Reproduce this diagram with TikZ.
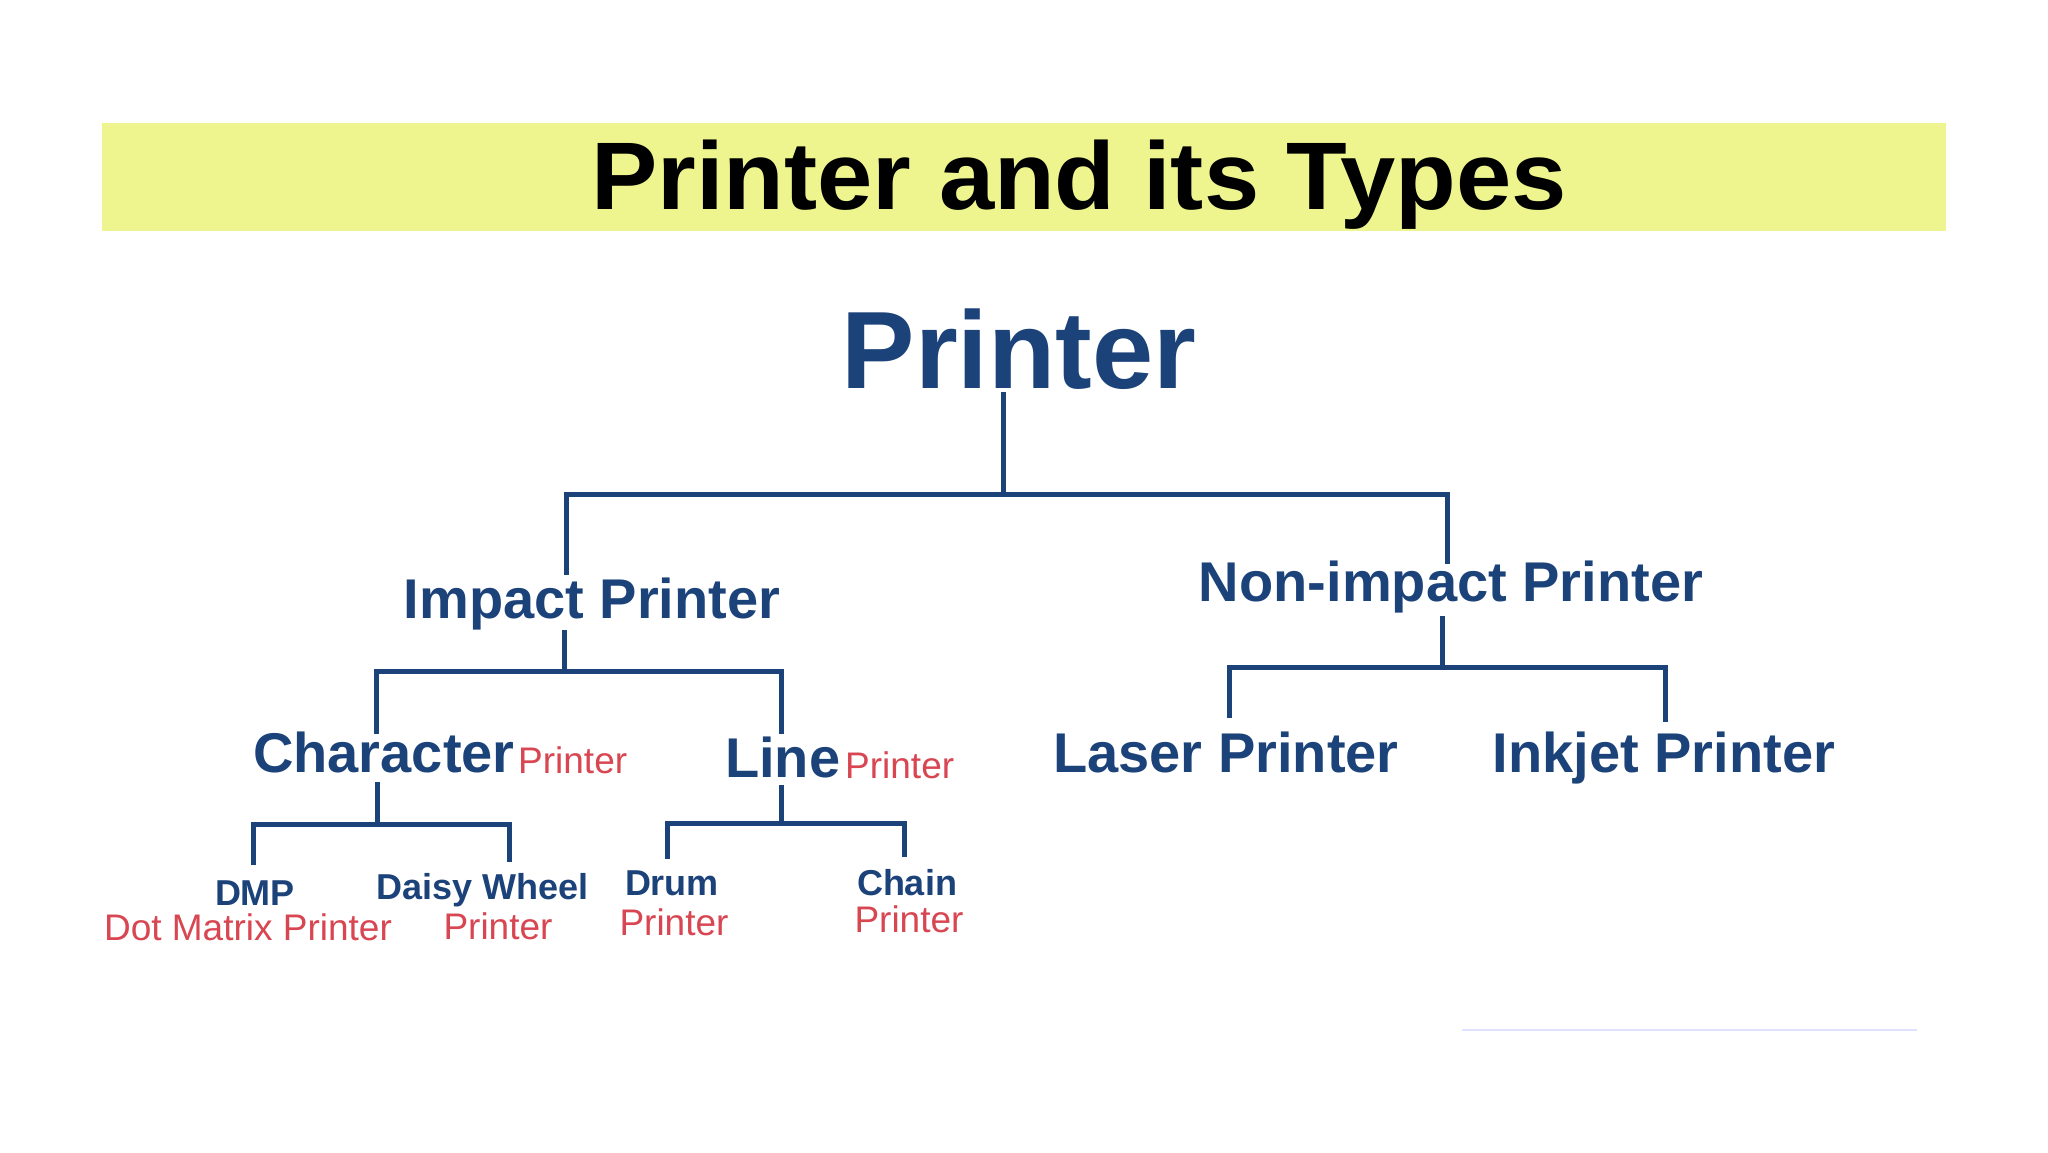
\documentclass[tikz,border=0pt]{standalone}
\usepackage{fontspec}
\setmainfont{Liberation Sans}
\definecolor{navy}{RGB}{28,66,122}
\definecolor{rosered}{RGB}{216,70,82}
\definecolor{paleyellow}{RGB}{238,245,142}

\begin{document}
\begin{tikzpicture}[x=1pt,y=-1pt,
  kind/.style={text=navy,font=\bfseries\fontsize{56}{60}\selectfont,inner sep=0pt,anchor=base},
  sub/.style={text=rosered,font=\fontsize{37}{40}\selectfont,inner sep=0pt,anchor=base},
  leaf/.style={text=navy,font=\bfseries\fontsize{36}{40}\selectfont,inner sep=0pt,anchor=base},
  link/.style={draw=navy,line width=5pt}] %%Printer tree
\useasboundingbox (0,0) rectangle (2048,1152);
\fill[white] (0,0) rectangle (2048,1152);
\fill[paleyellow] (102,123) rectangle (1946,231);
\node[anchor=base,inner sep=0pt,font=\bfseries\fontsize{96}{100}\selectfont,xscale=1.035] (title) at (1079,209) {Printer and its Types};

\node[kind,font=\bfseries\fontsize{110}{120}\selectfont] (printer) at (1019,388) {Printer};
\node[kind] (impact) at (592,618) {Impact Printer};
\node[kind] (nonimpact) at (1451,601) {Non-impact Printer};
\node[kind,anchor=base west] (char) at (253,772) {Character};
\node[sub,anchor=base west] (charsub) at (518,773) {Printer};
\node[kind,anchor=base west] (line) at (725,777) {Line};
\node[sub,anchor=base west] (linesub) at (845,778) {Printer};
\node[kind] (laser) at (1226,772) {Laser Printer};
\node[kind] (inkjet) at (1664,772) {Inkjet Printer};
\node[leaf] (dmp) at (255,905) {DMP};
\node[sub] (dmpsub) at (248,940) {Dot Matrix Printer};
\node[leaf] (daisy) at (483,899) {Daisy Wheel};
\node[sub] (daisysub) at (498,939) {Printer};
\node[leaf] (drum) at (672,895) {Drum};
\node[sub] (drumsub) at (674,935) {Printer};
\node[leaf] (chain) at (907,895) {Chain};
\node[sub] (chainsub) at (909,932) {Printer};

% branch points and child ends
\coordinate (b0) at (1003,494);
\coordinate (impactT) at (566,575);
\coordinate (nonT) at (1447,564);
\coordinate (b1) at (564,671);
\coordinate (charT) at (376,734);
\coordinate (lineT) at (781,734);
\coordinate (b2) at (1442,667);
\coordinate (laserT) at (1229,718);
\coordinate (inkjetT) at (1665,722);
\coordinate (b3) at (377,824);
\coordinate (dmpT) at (253,865);
\coordinate (daisyT) at (509,862);
\coordinate (b4) at (781,823);
\coordinate (drumT) at (667,859);
\coordinate (chainT) at (904,857);

\draw[link,shorten <=3pt] (printer.south -| b0) -- (b0);
\draw[link] (impactT) |- (b0) -| (nonT);
\draw[link] (impact.south -| b1) -- (b1);
\draw[link] (charT) |- (b1) -| (lineT);
\draw[link,shorten <=3pt] (nonimpact.south -| b2) -- (b2);
\draw[link] (laserT) |- (b2) -| (inkjetT);
\draw[link,shorten <=9pt] (char.south -| b3) -- (b3);
\draw[link] (dmpT) |- (b3) -| (daisyT);
\draw[link,shorten <=7pt] (line.south -| b4) -- (b4);
\draw[link] (drumT) |- (b4) -| (chainT);

\draw[blue!12,line width=1.5pt] (1462,1030) -- (1917,1030);
\end{tikzpicture}
\end{document}
